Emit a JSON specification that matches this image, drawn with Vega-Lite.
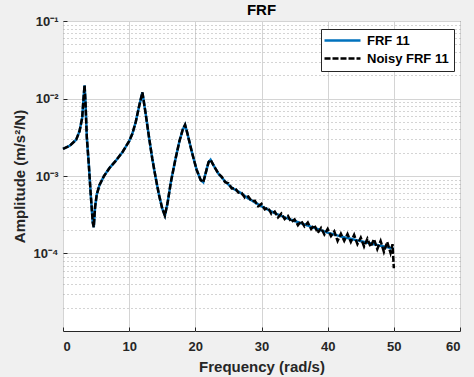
{
  "$schema": "https://vega.github.io/schema/vega-lite/v6.json",
  "width": 397,
  "height": 310,
  "autosize": {"type": "none"},
  "padding": {"left": 63, "top": 21, "right": 14, "bottom": 46},
  "background": "#f0f0f0",
  "title": {"text": "FRF", "fontSize": 15, "fontWeight": "bold", "font": "Liberation Sans", "color": "#000000", "offset": 0, "dy": 3, "anchor": "middle"},
  "config": {
    "view": {"fill": "white", "stroke": "#262626", "strokeWidth": 1},
    "axis": {"labelFont": "Liberation Sans", "labelFontWeight": "bold", "labelFontSize": 13, "labelColor": "#262626", "titleFont": "Liberation Sans", "titleFontWeight": "bold", "titleFontSize": 15, "titleColor": "#262626", "domain": false, "tickColor": "#262626", "gridColor": "#d4d4d4", "gridOpacity": 1},
    "legend": {"labelFont": "Liberation Sans", "labelFontWeight": "bold", "labelFontSize": 13, "labelColor": "#000000"}
  },
  "data": {"values": [
    {"f": 0, "A": 0.00224, "s": "FRF 11"},
    {"f": 1, "A": 0.00245, "s": "FRF 11"},
    {"f": 2, "A": 0.00295, "s": "FRF 11"},
    {"f": 2.5, "A": 0.00380, "s": "FRF 11"},
    {"f": 2.9, "A": 0.00562, "s": "FRF 11"},
    {"f": 3.1, "A": 0.0100, "s": "FRF 11"},
    {"f": 3.26, "A": 0.0148, "s": "FRF 11"},
    {"f": 3.4, "A": 0.00891, "s": "FRF 11"},
    {"f": 3.6, "A": 0.00316, "s": "FRF 11"},
    {"f": 3.9, "A": 0.00141, "s": "FRF 11"},
    {"f": 4.2, "A": 0.000562, "s": "FRF 11"},
    {"f": 4.5, "A": 0.000251, "s": "FRF 11"},
    {"f": 4.65, "A": 0.000219, "s": "FRF 11"},
    {"f": 4.85, "A": 0.000398, "s": "FRF 11"},
    {"f": 5.1, "A": 0.000575, "s": "FRF 11"},
    {"f": 5.5, "A": 0.000759, "s": "FRF 11"},
    {"f": 6.2, "A": 0.00100, "s": "FRF 11"},
    {"f": 7, "A": 0.00126, "s": "FRF 11"},
    {"f": 8, "A": 0.00158, "s": "FRF 11"},
    {"f": 9, "A": 0.00204, "s": "FRF 11"},
    {"f": 10, "A": 0.00282, "s": "FRF 11"},
    {"f": 10.5, "A": 0.00355, "s": "FRF 11"},
    {"f": 11, "A": 0.00501, "s": "FRF 11"},
    {"f": 11.5, "A": 0.00794, "s": "FRF 11"},
    {"f": 12, "A": 0.0120, "s": "FRF 11"},
    {"f": 12.5, "A": 0.00631, "s": "FRF 11"},
    {"f": 13, "A": 0.00316, "s": "FRF 11"},
    {"f": 13.5, "A": 0.00166, "s": "FRF 11"},
    {"f": 14, "A": 0.000955, "s": "FRF 11"},
    {"f": 14.5, "A": 0.000575, "s": "FRF 11"},
    {"f": 15, "A": 0.000380, "s": "FRF 11"},
    {"f": 15.4, "A": 0.000309, "s": "FRF 11"},
    {"f": 15.8, "A": 0.000447, "s": "FRF 11"},
    {"f": 16.3, "A": 0.000832, "s": "FRF 11"},
    {"f": 17, "A": 0.00166, "s": "FRF 11"},
    {"f": 17.6, "A": 0.00282, "s": "FRF 11"},
    {"f": 18.1, "A": 0.00398, "s": "FRF 11"},
    {"f": 18.45, "A": 0.00457, "s": "FRF 11"},
    {"f": 18.8, "A": 0.00355, "s": "FRF 11"},
    {"f": 19.5, "A": 0.00200, "s": "FRF 11"},
    {"f": 20.2, "A": 0.00120, "s": "FRF 11"},
    {"f": 20.8, "A": 0.000891, "s": "FRF 11"},
    {"f": 21.2, "A": 0.000832, "s": "FRF 11"},
    {"f": 21.6, "A": 0.00112, "s": "FRF 11"},
    {"f": 22.0, "A": 0.00151, "s": "FRF 11"},
    {"f": 22.3, "A": 0.00162, "s": "FRF 11"},
    {"f": 22.8, "A": 0.00135, "s": "FRF 11"},
    {"f": 23.5, "A": 0.00107, "s": "FRF 11"},
    {"f": 24.5, "A": 0.000851, "s": "FRF 11"},
    {"f": 25.5, "A": 0.000708, "s": "FRF 11"},
    {"f": 26.7, "A": 0.000617, "s": "FRF 11"},
    {"f": 28, "A": 0.000513, "s": "FRF 11"},
    {"f": 30, "A": 0.000407, "s": "FRF 11"},
    {"f": 32, "A": 0.000331, "s": "FRF 11"},
    {"f": 34, "A": 0.000282, "s": "FRF 11"},
    {"f": 36, "A": 0.000245, "s": "FRF 11"},
    {"f": 38, "A": 0.000214, "s": "FRF 11"},
    {"f": 40, "A": 0.000186, "s": "FRF 11"},
    {"f": 42, "A": 0.000166, "s": "FRF 11"},
    {"f": 44, "A": 0.000151, "s": "FRF 11"},
    {"f": 46, "A": 0.000138, "s": "FRF 11"},
    {"f": 48, "A": 0.000126, "s": "FRF 11"},
    {"f": 50, "A": 0.000115, "s": "FRF 11"},
    {"f": 0, "A": 0.00224, "s": "Noisy FRF 11"},
    {"f": 1, "A": 0.00245, "s": "Noisy FRF 11"},
    {"f": 2, "A": 0.00295, "s": "Noisy FRF 11"},
    {"f": 2.5, "A": 0.00380, "s": "Noisy FRF 11"},
    {"f": 2.9, "A": 0.00562, "s": "Noisy FRF 11"},
    {"f": 3.1, "A": 0.0100, "s": "Noisy FRF 11"},
    {"f": 3.26, "A": 0.0148, "s": "Noisy FRF 11"},
    {"f": 3.4, "A": 0.00891, "s": "Noisy FRF 11"},
    {"f": 3.6, "A": 0.00316, "s": "Noisy FRF 11"},
    {"f": 3.9, "A": 0.00141, "s": "Noisy FRF 11"},
    {"f": 4.2, "A": 0.000562, "s": "Noisy FRF 11"},
    {"f": 4.5, "A": 0.000251, "s": "Noisy FRF 11"},
    {"f": 4.65, "A": 0.000219, "s": "Noisy FRF 11"},
    {"f": 4.85, "A": 0.000398, "s": "Noisy FRF 11"},
    {"f": 5.1, "A": 0.000575, "s": "Noisy FRF 11"},
    {"f": 5.5, "A": 0.000759, "s": "Noisy FRF 11"},
    {"f": 6.2, "A": 0.00100, "s": "Noisy FRF 11"},
    {"f": 7, "A": 0.00126, "s": "Noisy FRF 11"},
    {"f": 8, "A": 0.00158, "s": "Noisy FRF 11"},
    {"f": 9, "A": 0.00204, "s": "Noisy FRF 11"},
    {"f": 10, "A": 0.00282, "s": "Noisy FRF 11"},
    {"f": 10.5, "A": 0.00355, "s": "Noisy FRF 11"},
    {"f": 11, "A": 0.00501, "s": "Noisy FRF 11"},
    {"f": 11.5, "A": 0.00794, "s": "Noisy FRF 11"},
    {"f": 12, "A": 0.0120, "s": "Noisy FRF 11"},
    {"f": 12.5, "A": 0.00631, "s": "Noisy FRF 11"},
    {"f": 13, "A": 0.00316, "s": "Noisy FRF 11"},
    {"f": 13.5, "A": 0.00166, "s": "Noisy FRF 11"},
    {"f": 14, "A": 0.000955, "s": "Noisy FRF 11"},
    {"f": 14.5, "A": 0.000575, "s": "Noisy FRF 11"},
    {"f": 15, "A": 0.000380, "s": "Noisy FRF 11"},
    {"f": 15.4, "A": 0.000309, "s": "Noisy FRF 11"},
    {"f": 15.8, "A": 0.000447, "s": "Noisy FRF 11"},
    {"f": 16.3, "A": 0.000832, "s": "Noisy FRF 11"},
    {"f": 17, "A": 0.00166, "s": "Noisy FRF 11"},
    {"f": 17.6, "A": 0.00282, "s": "Noisy FRF 11"},
    {"f": 18.1, "A": 0.00398, "s": "Noisy FRF 11"},
    {"f": 18.45, "A": 0.00457, "s": "Noisy FRF 11"},
    {"f": 18.8, "A": 0.00355, "s": "Noisy FRF 11"},
    {"f": 19.5, "A": 0.00200, "s": "Noisy FRF 11"},
    {"f": 20.2, "A": 0.00120, "s": "Noisy FRF 11"},
    {"f": 20.8, "A": 0.000891, "s": "Noisy FRF 11"},
    {"f": 21.2, "A": 0.000832, "s": "Noisy FRF 11"},
    {"f": 21.6, "A": 0.00112, "s": "Noisy FRF 11"},
    {"f": 22.0, "A": 0.00151, "s": "Noisy FRF 11"},
    {"f": 22.3, "A": 0.00162, "s": "Noisy FRF 11"},
    {"f": 22.8, "A": 0.00135, "s": "Noisy FRF 11"},
    {"f": 23.5, "A": 0.00107, "s": "Noisy FRF 11"},
    {"f": 24, "A": 0.000977, "s": "Noisy FRF 11"},
    {"f": 24.5, "A": 0.000832, "s": "Noisy FRF 11"},
    {"f": 25, "A": 0.000804, "s": "Noisy FRF 11"},
    {"f": 25.5, "A": 0.000692, "s": "Noisy FRF 11"},
    {"f": 26, "A": 0.000700, "s": "Noisy FRF 11"},
    {"f": 26.5, "A": 0.000610, "s": "Noisy FRF 11"},
    {"f": 27, "A": 0.000603, "s": "Noisy FRF 11"},
    {"f": 27.5, "A": 0.000525, "s": "Noisy FRF 11"},
    {"f": 28, "A": 0.000543, "s": "Noisy FRF 11"},
    {"f": 28.5, "A": 0.000473, "s": "Noisy FRF 11"},
    {"f": 29, "A": 0.000479, "s": "Noisy FRF 11"},
    {"f": 29.5, "A": 0.000407, "s": "Noisy FRF 11"},
    {"f": 30, "A": 0.000437, "s": "Noisy FRF 11"},
    {"f": 30.5, "A": 0.000372, "s": "Noisy FRF 11"},
    {"f": 31, "A": 0.000389, "s": "Noisy FRF 11"},
    {"f": 31.5, "A": 0.000324, "s": "Noisy FRF 11"},
    {"f": 32, "A": 0.000347, "s": "Noisy FRF 11"},
    {"f": 32.5, "A": 0.000292, "s": "Noisy FRF 11"},
    {"f": 33, "A": 0.000327, "s": "Noisy FRF 11"},
    {"f": 33.5, "A": 0.000279, "s": "Noisy FRF 11"},
    {"f": 34, "A": 0.000305, "s": "Noisy FRF 11"},
    {"f": 34.5, "A": 0.000254, "s": "Noisy FRF 11"},
    {"f": 35, "A": 0.000275, "s": "Noisy FRF 11"},
    {"f": 35.5, "A": 0.000232, "s": "Noisy FRF 11"},
    {"f": 36, "A": 0.000263, "s": "Noisy FRF 11"},
    {"f": 36.5, "A": 0.000224, "s": "Noisy FRF 11"},
    {"f": 37, "A": 0.000251, "s": "Noisy FRF 11"},
    {"f": 37.5, "A": 0.000207, "s": "Noisy FRF 11"},
    {"f": 38, "A": 0.000232, "s": "Noisy FRF 11"},
    {"f": 38.5, "A": 0.000184, "s": "Noisy FRF 11"},
    {"f": 39, "A": 0.000214, "s": "Noisy FRF 11"},
    {"f": 39.5, "A": 0.000176, "s": "Noisy FRF 11"},
    {"f": 40, "A": 0.000207, "s": "Noisy FRF 11"},
    {"f": 40.5, "A": 0.000168, "s": "Noisy FRF 11"},
    {"f": 41, "A": 0.000193, "s": "Noisy FRF 11"},
    {"f": 41.5, "A": 0.000145, "s": "Noisy FRF 11"},
    {"f": 42, "A": 0.000180, "s": "Noisy FRF 11"},
    {"f": 42.5, "A": 0.000146, "s": "Noisy FRF 11"},
    {"f": 43, "A": 0.000178, "s": "Noisy FRF 11"},
    {"f": 43.5, "A": 0.000141, "s": "Noisy FRF 11"},
    {"f": 44, "A": 0.000174, "s": "Noisy FRF 11"},
    {"f": 44.5, "A": 0.000132, "s": "Noisy FRF 11"},
    {"f": 45, "A": 0.000160, "s": "Noisy FRF 11"},
    {"f": 45.5, "A": 0.000123, "s": "Noisy FRF 11"},
    {"f": 46, "A": 0.000155, "s": "Noisy FRF 11"},
    {"f": 46.5, "A": 0.000122, "s": "Noisy FRF 11"},
    {"f": 47, "A": 0.000153, "s": "Noisy FRF 11"},
    {"f": 47.5, "A": 0.000114, "s": "Noisy FRF 11"},
    {"f": 48, "A": 0.000145, "s": "Noisy FRF 11"},
    {"f": 48.5, "A": 0.000105, "s": "Noisy FRF 11"},
    {"f": 49, "A": 0.000141, "s": "Noisy FRF 11"},
    {"f": 49.5, "A": 0.000102, "s": "Noisy FRF 11"},
    {"f": 49.8, "A": 0.000132, "s": "Noisy FRF 11"},
    {"f": 50, "A": 0.0000646, "s": "Noisy FRF 11"}
  ]},
  "layer": [
    {
      "mark": {"type": "line", "opacity": 0},
      "encoding": {
        "x": {"field": "f", "type": "quantitative", "axis": null, "scale": {"domain": [0, 60], "nice": false, "zero": false}},
        "y": {"field": "A", "type": "quantitative", "scale": {"type": "log", "domain": [0.00001, 0.1], "nice": false},
          "axis": {"orient": "left", "values": [0.00002, 0.00003, 0.00004, 0.00005, 0.00006, 0.00007, 0.00008, 0.00009, 0.0002, 0.0003, 0.0004, 0.0005, 0.0006, 0.0007, 0.0008, 0.0009, 0.002, 0.003, 0.004, 0.005, 0.006, 0.007, 0.008, 0.009, 0.02, 0.03, 0.04, 0.05, 0.06, 0.07, 0.08, 0.09],
            "grid": true, "gridDash": [1, 3], "gridColor": "#a8a8a8", "labels": false, "ticks": false, "domain": false, "title": null, "minExtent": 0, "maxExtent": 0}},
        "detail": {"field": "s"}
      }
    },
    {
      "mark": {"type": "line"},
      "encoding": {
        "x": {"field": "f", "type": "quantitative", "scale": {"domain": [0, 60], "nice": false, "zero": false},
          "axis": {"orient": "bottom", "values": [0, 10, 20, 30, 40, 50, 60], "grid": true, "tickSize": -4, "labelPadding": 13, "title": "Frequency (rad/s)", "titlePadding": 6}},
        "y": {"field": "A", "type": "quantitative", "scale": {"type": "log", "domain": [0.00001, 0.1], "nice": false},
          "axis": {"orient": "left", "values": [0.0001, 0.001, 0.01, 0.1], "grid": true, "tickSize": -4, "labelPadding": 9,
            "labelExpr": "'10' + (datum.value > 0.05 ? '⁻¹' : datum.value > 0.005 ? '⁻²' : datum.value > 0.0005 ? '⁻³' : '⁻⁴')",
            "title": "Amplitude (m/s²/N)", "titlePadding": 6}},
        "color": {"field": "s", "type": "nominal", "scale": {"domain": ["FRF 11", "Noisy FRF 11"], "range": ["#0072BD", "#000000"]},
          "legend": {"title": null, "orient": "none", "legendX": 258, "legendY": 8, "fillColor": "white", "strokeColor": "#262626", "padding": 5, "symbolType": "M-1.6,0L5.6,0", "symbolSize": 100, "labelOffset": 28, "rowPadding": 4}},
        "strokeDash": {"field": "s", "type": "nominal", "scale": {"domain": ["FRF 11", "Noisy FRF 11"], "range": [[1, 0], [6, 2]]}, "legend": {"title": null}},
        "strokeWidth": {"field": "s", "type": "nominal", "scale": {"domain": ["FRF 11", "Noisy FRF 11"], "range": [2.5, 2.5]}, "legend": {"title": null}}
      }
    }
  ],
  "resolve": {"axis": {"x": "independent", "y": "independent"}}
}
